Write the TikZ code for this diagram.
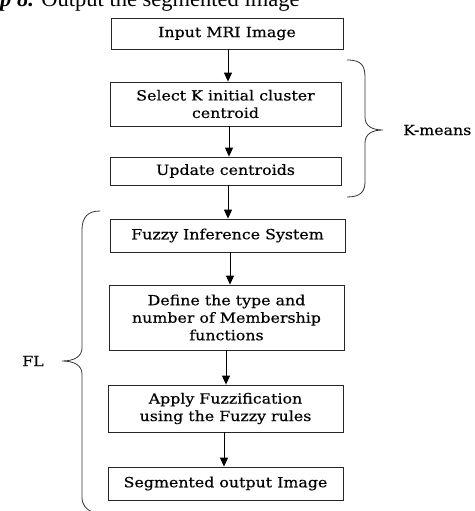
\documentclass[tikz,border=0pt]{standalone}
\usepackage{fontspec}
\setmainfont{DejaVu Serif}
\newfontfamily\boxfont[FakeStretch=1.13,FakeBold=0.4]{DejaVu Serif}
\newfontfamily\titlefont{Liberation Serif}
\usetikzlibrary{arrows.meta}
\begin{document}
\begin{tikzpicture}[x=1pt,y=-1pt,
  box/.style={draw=black!85,line width=0.8pt,inner sep=0pt,align=center,
    font=\boxfont\fontsize{14}{17.5}\selectfont,text=black},
  arr/.style={line width=0.9pt,-{Triangle[length=9pt,width=8pt]}},
  brc/.style={line width=0.8pt,black!80},
  lbl/.style={font=\boxfont\fontsize{14}{16}\selectfont,text=black}]
\useasboundingbox (0,0) rectangle (474,511);
\clip (0,0) rectangle (474,511);
\node[anchor=base west,inner sep=0pt,font=\titlefont\fontsize{22.5}{24}\selectfont] (title) at (0,7)
  {\textbf{\textit{p 8.}} Output the segmented image};
\node[box,minimum width=232pt,minimum height=31pt] (in) at (227,33.5) {Input MRI Image};
\node[box,minimum width=231pt,minimum height=44pt] (sel) at (225.5,104) {Select K initial cluster\\centroid};
\node[box,minimum width=231pt,minimum height=28pt] (upd) at (225.5,171) {Update centroids};
\node[box,minimum width=235pt,minimum height=33pt] (fis) at (227.5,235.5) {Fuzzy Inference System};
\node[box,minimum width=235pt,minimum height=65pt] (def) at (226.5,317.5) {Define the type and\\number of Membership\\functions};
\node[box,minimum width=235pt,minimum height=47pt] (app) at (225.5,408.5) {Apply Fuzzification\\using the Fuzzy rules};
\node[box,minimum width=235pt,minimum height=33pt] (seg) at (225.5,483.5) {Segmented output Image};
\coordinate (a1) at (228,0); \coordinate (a2) at (229,0); \coordinate (a3) at (228,0);
\coordinate (a4) at (230,0); \coordinate (a5) at (226,0); \coordinate (a6) at (224,0);
\draw[arr] (a1 |- in.south) -- (a1 |- sel.north);
\draw[arr] (a2 |- sel.south) -- (a2 |- upd.north);
\draw[arr] (a3 |- upd.south) -- (a3 |- fis.north);
\draw[arr] (a4 |- fis.south) -- (a4 |- def.north);
\draw[arr] (a5 |- def.south) -- (a5 |- app.north);
\draw[arr] (a6 |- app.south) -- (a6 |- seg.north);
% K-means brace
\coordinate (kt) at (347,60); \coordinate (kb) at (347,197); \coordinate (ktip) at (383,130);
\draw[brc] (kt) .. controls (362,60) and (365,66) .. (365,78) -- (365,117)
  .. controls (365,126) and (372,130) .. (ktip)
  .. controls (372,130) and (365,134) .. (365,143) -- (365,182)
  .. controls (365,192) and (360,197) .. (kb);
\node[lbl,anchor=west,inner sep=0pt] (km) at (403,130) {K-means};
% FL brace
\coordinate (ft) at (100,211); \coordinate (fb) at (92,512); \coordinate (ftip) at (62,361);
\draw[brc] (ft) .. controls (88,211) and (82,217) .. (82,230) -- (82,348)
  .. controls (82,356) and (75,361) .. (ftip)
  .. controls (75,361) and (82,366) .. (82,374) -- (82,497)
  .. controls (82,505) and (86,509) .. (fb);
\node[lbl,anchor=west,inner sep=0pt] (fl) at (22,361) {FL};
\end{tikzpicture}
\end{document}
